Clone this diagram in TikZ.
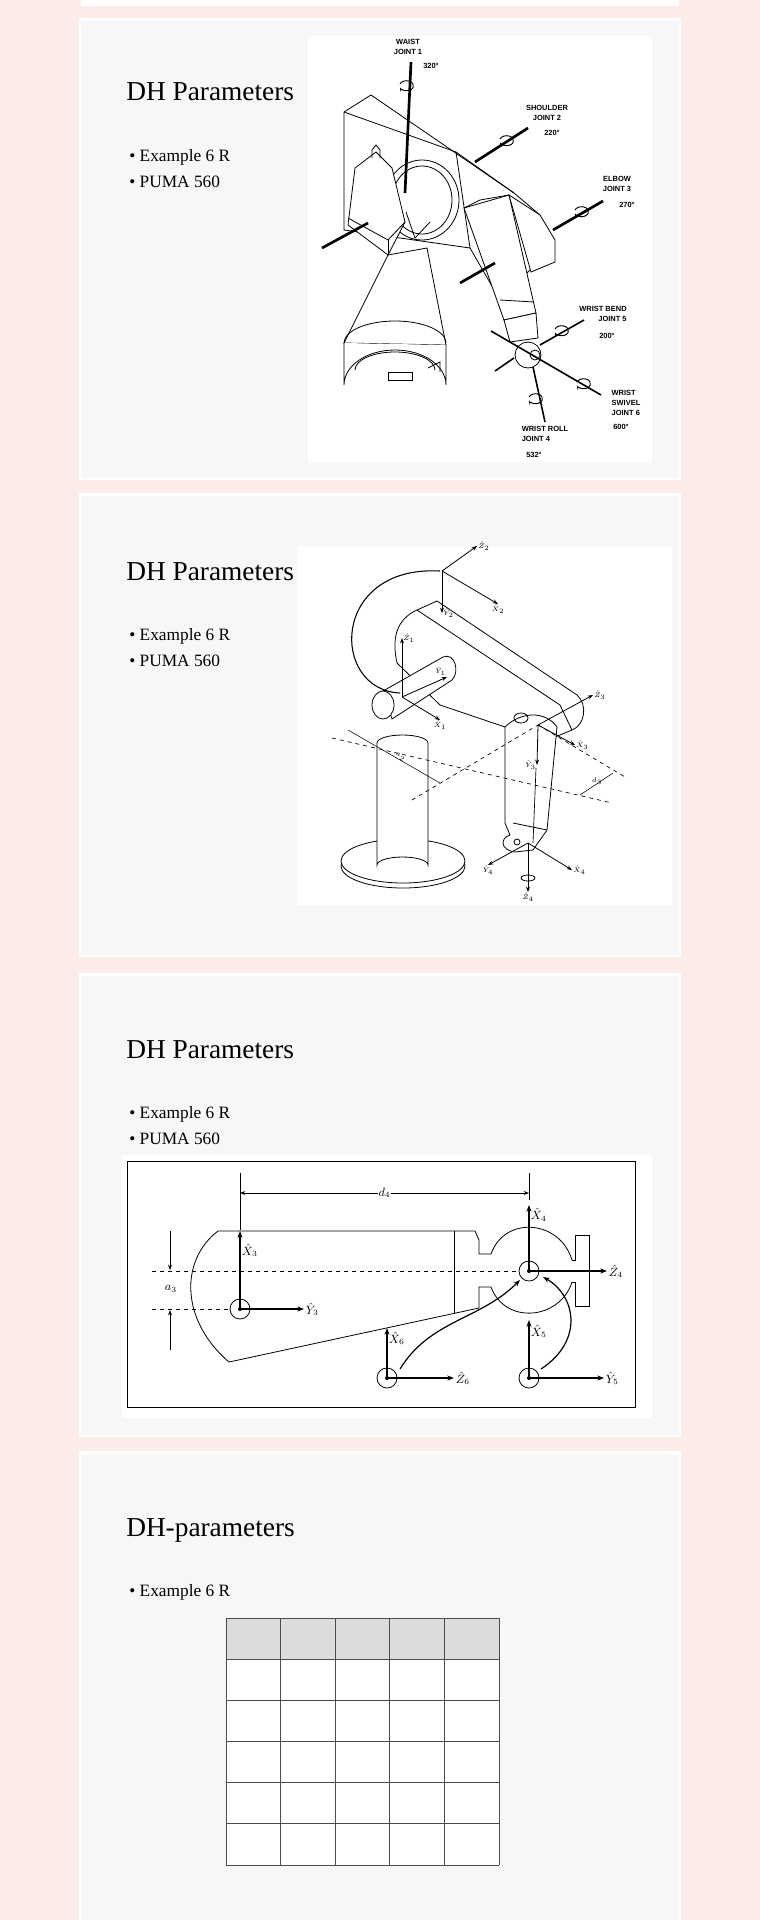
\documentclass[tikz,border=0pt]{standalone}
\usepackage{fontspec}
\setmainfont{Liberation Serif}
\newfontfamily\lab{Liberation Sans}
\usetikzlibrary{arrows.meta}
\definecolor{bgpink}{HTML}{FBECE9}
\definecolor{panel}{HTML}{F7F7F7}
\definecolor{hdr}{HTML}{DCDCDC}
\tikzset{
  paneltitle/.style={anchor=west,font=\fontsize{20.5pt}{22pt}\selectfont,inner sep=0},
  bullet/.style={anchor=west,font=\fontsize{13pt}{14pt}\selectfont,inner sep=0},
  pumalab/.style={font=\lab\bfseries\fontsize{5.6pt}{7.5pt}\selectfont,inner sep=0,align=center},
  axis/.style={line width=2pt},
  body/.style={line width=0.6pt},
  rotic/.style={line width=0.7pt,-{Stealth[length=3pt]}},
  frm/.style={line width=0.6pt,-{Stealth[length=4pt]}},
  frm2/.style={line width=0.9pt,-{Stealth[length=5pt]}},
  dash2/.style={dashed,line width=0.5pt},
  tl/.style={font=\fontsize{5pt}{6pt}\selectfont,inner sep=0.5pt},
  ml/.style={font=\fontsize{9pt}{10pt}\selectfont,inner sep=1pt}
}
\newcommand{\rotarrow}[2]{\draw[rotic] (#1,#2) ++(-7,-3) arc[start angle=200,end angle=520,x radius=7,y radius=5];}
\begin{document}
\begin{tikzpicture}[x=0.75pt,y=-0.75pt]
\useasboundingbox (0,0) rectangle (760,1920);
\fill[bgpink] (0,0) rectangle (760,1920);
\fill[white] (81,0) rectangle (679,6);
\foreach \a/\b in {21/478,496/955,976/1435,1454/1925}{
  \fill[white] (79,\a-3) rectangle (681,\b+2);
  \fill[panel] (81,\a) rectangle (679,\b);
}
% ---------- slide 1
\node[paneltitle] (t1) at (126,92) {DH Parameters};
\node[bullet] (b11) at (129,157) {• Example 6 R};
\node[bullet] (b12) at (129,182) {• PUMA 560};
\fill[white] (308,36) rectangle (652,463);
\draw[body,fill=white] (344,343) -- (388,255) -- (427,248) -- (446,345) -- cycle;
\draw[body,fill=white] (344,343) -- (344,385) arc[start angle=180,end angle=360,x radius=51,y radius=35] -- (446,345);
\draw[body] (344,343) arc[start angle=180,end angle=360,x radius=51,y radius=22];
\draw[body] (355,370) arc[start angle=180,end angle=360,x radius=40,y radius=18];
\draw[body] (388,372) rectangle (412,380);
\draw[body] (428,368) -- (440,362) -- (440,372);
\draw[body,fill=white] (344,112) -- (371,95) -- (514,193) -- (540,215) -- (540,260) -- (500,300) -- (470,248) -- (344,230) -- cycle;
\draw[body] (344,112) -- (456,152) -- (514,193);
\draw[body] (456,152) -- (470,248);
\draw[body,fill=white] (422,200) circle[x radius=37,y radius=40];
\draw[body] (422,200) circle[x radius=30,y radius=34];
\draw[body,fill=white] (355,168) -- (376,152) -- (392,168) -- (405,222) -- (388,255) -- (348,225) -- cycle;
\draw[body] (372,158) -- (372,150) -- (376,145) -- (380,150) -- (380,158);
\draw[body] (348,218) -- (388,240) -- (405,222);
\draw[body] (388,240) -- (388,255);
\draw[body] (406,212) -- (415,238) -- (430,222);
\draw[body,fill=white] (464,208) -- (509,195) -- (536,313) -- (504,320) -- cycle;
\draw[body] (464,208) -- (480,200) -- (509,195);
\draw[body] (500,300) -- (534,302);
\draw[body,fill=white] (509,195) -- (540,215) -- (555,240) -- (555,262) -- (531,272) -- cycle;
\draw[body,fill=white] (504,320) -- (536,313) -- (538,338) -- (510,342) -- cycle;
\draw[body,fill=white] (528,355) circle[radius=13];
\draw[body] (535,355) circle[radius=5];
\draw[axis] (411,62) -- (405,193);
\draw[axis] (528,128) -- (475,162);
\draw[axis] (603,201) -- (553,230);
\draw[axis] (322,248) -- (368,223);
\draw[axis] (460,283) -- (495,263);
\draw[line width=1.2pt] (584,320) -- (540,345);
\draw[line width=1.2pt] (491,331) -- (601,395);
\draw[line width=1.2pt] (495,371) -- (514,358);
\draw[line width=1.2pt] (533,367) -- (545,422);
\rotarrow{407}{87}
\rotarrow{507}{142}
\rotarrow{582}{213}
\rotarrow{562}{332}
\rotarrow{584}{385}
\rotarrow{536}{400}
\node[pumalab] (w1) at (408,47) {WAIST\\JOINT 1};
\node[pumalab] (w3) at (431,66) {320°};
\node[pumalab] (s1) at (547,113) {SHOULDER\\JOINT 2};
\node[pumalab] (s3) at (552,133) {220°};
\node[pumalab] (e1) at (617,184) {ELBOW\\JOINT 3};
\node[pumalab] (e3) at (627,205) {270°};
\node[pumalab,align=right] (wb1) at (603,314) {WRIST BEND\\JOINT 5};
\node[pumalab] (wb3) at (607,336) {200°};
\node[pumalab,align=left] (ws1) at (626,403) {WRIST\\SWIVEL\\JOINT 6};
\node[pumalab] (ws4) at (621,427) {600°};
\node[pumalab,align=left] (wr1) at (545,434) {WRIST ROLL\\JOINT 4};
\node[pumalab] (wr3) at (534,455) {532°};
% ---------- slide 2
\node[paneltitle] (t2) at (126,572) {DH Parameters};
\node[bullet] (b21) at (129,636) {• Example 6 R};
\node[bullet] (b22) at (129,661) {• PUMA 560};
\fill[white] (297,546) rectangle (672,905);
\draw[body,fill=white] (403,866) circle[x radius=62,y radius=22];
\draw[body,fill=white] (403,861) circle[x radius=62,y radius=22];
\draw[body,fill=white] (377,743) -- (377,865) arc[start angle=180,end angle=360,x radius=25.5,y radius=8] -- (428,743);
\draw[body] (377,743) arc[start angle=180,end angle=360,x radius=25.5,y radius=8];
\draw[body,fill=white] (397,663) .. controls (392,640) and (395,620) .. (417,610) -- (437,601) -- (577,695) .. controls (588,705) and (585,725) .. (572,730) -- (555,737) -- (505,727) -- (440,705) -- cycle;
\draw[body] (417,610) -- (560,705) -- (572,730);
\draw[body,fill=white] (383,691) -- (443,657) .. controls (455,652) and (460,672) .. (452,680) -- (392,719) -- cycle;
\draw[body,fill=white] (383,705) circle[x radius=11,y radius=14];
\draw[body,fill=white] (505,727) .. controls (520,712) and (545,710) .. (557,727) -- (547,830) -- (533,850) -- (515,852) .. controls (500,850) and (500,838) .. (510,835) -- (505,823) -- cycle;
\draw[body] (513,823) -- (547,830);
\draw[body] (521,718) circle[x radius=7,y radius=5];
\draw[body] (517,842) circle[radius=3];
\draw[body,fill=white] (528,878) circle[x radius=7,y radius=3];
\draw[body] (528,852) -- (528,876);
\draw[dash2] (332,738) -- (612,803);
\draw[dash2] (412,800) -- (538,725);
\draw[dash2] (538,725) -- (625,777);
\draw[line width=0.4pt] (348,730) -- (440,783);
\draw[line width=0.4pt] (580,795) -- (613,773);
\node[tl,rotate=-30] (a2l) at (400,757) {$a_2$};
\node[tl] (d3l) at (597,781) {$d_3$};
\draw[line width=0.8pt] (440,571) .. controls (330,565) and (330,690) .. (400,693);
\coordinate (o2) at (442,571);
\draw[frm] (o2) -- (477,546) node[tl,right] {$\hat Z_2$};
\draw[frm] (o2) -- (498,604) node[tl,below] {$\hat X_2$};
\draw[frm] (o2) -- (442,613) node[tl,right] {$\hat Y_2$};
\coordinate (o1) at (402,697);
\draw[frm] (o1) -- (402,638) node[tl,right] {$\hat Z_1$};
\draw[frm] (o1) -- (447,677) node[tl,above left] {$\hat Y_1$};
\draw[frm] (o1) -- (440,720) node[tl,below] {$\hat X_1$};
\coordinate (o3) at (538,725);
\draw[frm] (o3) -- (593,695) node[tl,right] {$\hat Z_3$};
\draw[frm] (o3) -- (575,745) node[tl,right] {$\hat X_3$};
\draw[frm] (o3) -- (537,765) node[tl,left] {$\hat Y_3$};
\draw[line width=0.5pt] (536,768) -- (533,843);
\coordinate (o4) at (528,843);
\draw[frm] (o4) -- (488,865) node[tl,below] {$\hat Y_4$};
\draw[frm] (o4) -- (572,870) node[tl,right] {$\hat X_4$};
\draw[frm] (o4) -- (528,892) node[tl,below] {$\hat Z_4$};
% ---------- slide 3
\node[paneltitle] (t3) at (126,1050) {DH Parameters};
\node[bullet] (b31) at (129,1114) {• Example 6 R};
\node[bullet] (b32) at (129,1139) {• PUMA 560};
\fill[white] (122,1155) rectangle (652,1418);
\draw[line width=0.6pt] (127,1161) rectangle (635,1407);
\draw[body] (218,1231) -- (475,1231) -- (479,1240) -- (479,1254) -- (491,1254) .. controls (505,1215) and (560,1220) .. (572,1260);
\draw[body] (491,1287) .. controls (505,1325) and (560,1320) .. (572,1282);
\draw[body] (491,1287) -- (479,1287) -- (479,1308) -- (229,1362) .. controls (180,1320) and (180,1260) .. (218,1231);
\draw[body] (454,1231) -- (454,1313);
\draw[body] (572,1260) -- (575,1260) -- (575,1235) -- (589,1235) -- (589,1306) -- (575,1306) -- (575,1282) -- (572,1282);
\draw[dash2] (152,1271) -- (518,1271);
\draw[dash2] (152,1309) -- (229,1309);
\draw[line width=0.5pt,-{Stealth[length=4pt]}] (170,1231) -- (170,1270);
\draw[line width=0.5pt,-{Stealth[length=4pt]}] (170,1350) -- (170,1310);
\node[ml] (a3l) at (171,1289) {$a_3$};
\draw[line width=0.5pt] (240,1173) -- (240,1230);
\draw[line width=0.5pt] (529,1173) -- (529,1200);
\draw[line width=0.5pt,{Stealth[length=4pt]}-{Stealth[length=4pt]}] (240,1193) -- node[ml,fill=white,inner sep=0.5pt] {$d_4$} (529,1193);
\coordinate (f3) at (240,1309);
\draw[line width=0.6pt] (f3) circle[radius=10];
\fill (f3) circle[radius=2];
\draw[frm2] (f3) -- (240,1231) node[ml,pos=0.75,right] {$\hat X_3$};
\draw[frm2] (f3) -- (304,1309) node[ml,right] {$\hat Y_3$};
\coordinate (f4) at (529,1271);
\draw[line width=0.6pt] (f4) circle[radius=10];
\fill (f4) circle[radius=2];
\draw[frm2] (f4) -- (529,1205) node[ml,pos=0.85,right] {$\hat X_4$};
\draw[frm2] (f4) -- (607,1271) node[ml,right] {$\hat Z_4$};
\coordinate (f6) at (387,1378);
\draw[line width=0.6pt] (f6) circle[radius=10];
\fill (f6) circle[radius=2];
\draw[frm2] (f6) -- (387,1328) node[ml,pos=0.8,right] {$\hat X_6$};
\draw[frm2] (f6) -- (454,1378) node[ml,right] {$\hat Z_6$};
\coordinate (f5) at (529,1378);
\draw[line width=0.6pt] (f5) circle[radius=10];
\fill (f5) circle[radius=2];
\draw[frm2] (f5) -- (529,1320) node[ml,pos=0.8,right] {$\hat X_5$};
\draw[frm2] (f5) -- (604,1378) node[ml,right] {$\hat Y_5$};
\draw[frm2] (400,1369) .. controls (430,1320) and (480,1320) .. (520,1280);
\draw[frm2] (541,1369) .. controls (585,1340) and (575,1295) .. (543,1277);
% ---------- slide 4
\node[paneltitle] (t4) at (126,1530) {DH-parameters};
\node[bullet] (b41) at (129,1592) {• Example 6 R};
\fill[hdr] (226,1618) rectangle (499,1659);
\fill[white] (226,1659) rectangle (499,1865);
\foreach \i in {0,...,5}{\draw[line width=0.6pt,draw=black!70] (226+54.6*\i,1618) -- (226+54.6*\i,1865);}
\foreach \j in {0,...,6}{\draw[line width=0.6pt,draw=black!70] (226,1618+41.17*\j) -- (499,1618+41.17*\j);}
\end{tikzpicture}
\end{document}
